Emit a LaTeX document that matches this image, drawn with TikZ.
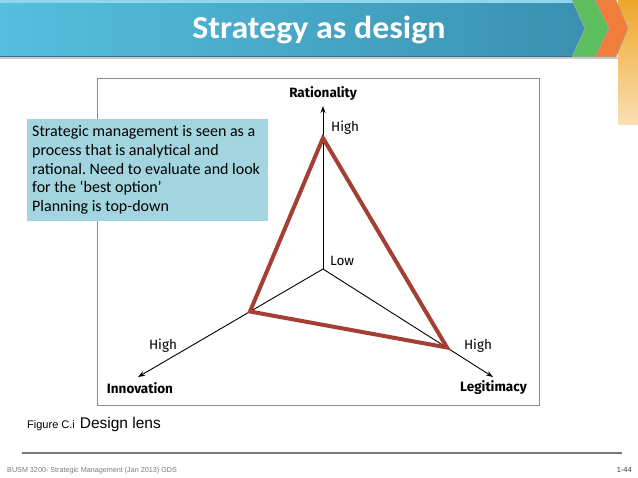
\documentclass[tikz,border=0pt]{standalone}
\usepackage{fontspec}
\setmainfont{Carlito}
\newfontfamily\figfont{Fira Sans}
\newfontfamily\arialfont{Liberation Sans}
\usetikzlibrary{arrows.meta}
\frenchspacing
\definecolor{barL}{HTML}{55BFDD}
\definecolor{barR}{HTML}{3A90B0}
\definecolor{barTop}{HTML}{8FD7EC}
\definecolor{barEdge}{HTML}{2F7490}
\definecolor{chgreen}{HTML}{5DBE5E}
\definecolor{chorange}{HTML}{F07E3A}
\definecolor{chyellow}{HTML}{EFA62B}
\definecolor{notebg}{HTML}{A3D5E1}
\definecolor{redline}{HTML}{A53F33}
\definecolor{framegray}{HTML}{8C8C8C}
\definecolor{footgray}{HTML}{7A7A7A}
\tikzset{
  axisarrow/.style={line width=0.9pt, -{Stealth[length=7pt,width=5pt]}},
  lensline/.style={draw=redline, line width=4pt, line join=miter},
  axlabel/.style={font=\figfont\bfseries\fontsize{13.5}{16}\selectfont, inner sep=0pt},
  levlabel/.style={font=\figfont\fontsize{13.5}{16}\selectfont, inner sep=0pt},
  chev/.style={draw=black!35, line width=0.5pt},
}
\begin{document}
\begin{tikzpicture}[x=1pt,y=-1pt]
\useasboundingbox (0,0) rectangle (638,478);
\fill[white] (0,0) rectangle (638,478);
% header
\shade[top color=chyellow, bottom color=chyellow!35] (618,0) rectangle (638,125);
\fill[black!20] (0,57) rectangle (618,59);
\shade[left color=barL, right color=barR] (0,0) -- (572,0) -- (585,28.5) -- (572,57) -- (0,57) -- cycle;
\fill[barTop] (0,0) -- (572,0) -- (573.4,3) -- (0,3) -- cycle;
\draw[barEdge, line width=1pt] (0,56.5) -- (572,56.5);
\fill[chgreen, chev] (572,0) -- (595,0) -- (609,28.5) -- (595,57) -- (572,57) -- (585,28.5) -- cycle;
\fill[chorange, chev] (595,0) -- (616,0) -- (628,28.5) -- (616,57) -- (595,57) -- (609,28.5) -- cycle;
\node[anchor=base, text=white, font=\bfseries\fontsize{32}{38}\selectfont, inner sep=0pt] (title) at (319,39) {\scalebox{1.06}[1]{Strategy as design}};
% figure frame
\draw[framegray, line width=0.8pt] (97,78) rectangle (539,405);
% axes
\coordinate (O) at (323,269);
\coordinate (rt) at (323,106);
\coordinate (it) at (138,377);
\coordinate (lt) at (493,377);
\draw[axisarrow] (O) -- (rt);
\draw[axisarrow] (O) -- (it);
\draw[axisarrow] (O) -- (lt);
% lens triangle
\coordinate (rv) at (323,138);
\coordinate (iv) at (250,311.5);
\coordinate (lv) at (447,347.5);
\draw[lensline] (rv) -- (iv) -- (lv) -- cycle;
% labels
\node[axlabel] (rat) at (323,94) {Rationality};
\node[axlabel] (inn) at (140,388) {Innovation};
\node[axlabel] (leg) at (493.5,388) {Legitimacy};
\node[levlabel, anchor=west] (hir) at (331,128) {High};
\node[levlabel, anchor=west] (low) at (330,261) {Low};
\node[levlabel] (hii) at (163,346) {High};
\node[levlabel] (hil) at (478,346) {High};
% note box
\fill[notebg] (27,119) rectangle (268,221);
\node[anchor=west, inner sep=0pt, align=left,
      font=\fontsize{16}{18.8}\selectfont] (note) at (32,170)
  {Strategic management is seen as a\\process that is analytical and\\rational. Need to evaluate and look\\for the ‘best option’\\Planning is top-down};
% caption
\node[anchor=base west, inner sep=0pt, font=\arialfont] (cap) at (27,429)
  {{\fontsize{11}{13}\selectfont Figure C.i}\hspace{5pt}{\fontsize{15.5}{18}\selectfont Design lens}};
% footer
\coordinate (fl) at (22,453);
\coordinate (fr) at (622,453);
\draw[footgray, line width=1.5pt] (fl) -- (fr);
\node[anchor=base west, inner sep=0pt, text=footgray, font=\arialfont\fontsize{7.2}{9}\selectfont] (foot) at (7,472.5) {BUSM 3200- Strategic Management (Jan 2013) GDS};
\node[anchor=base east, inner sep=0pt, text=black!75, font=\arialfont\fontsize{7.5}{9}\selectfont] (pg) at (632,472.5) {1-44};
\end{tikzpicture}
\end{document}
